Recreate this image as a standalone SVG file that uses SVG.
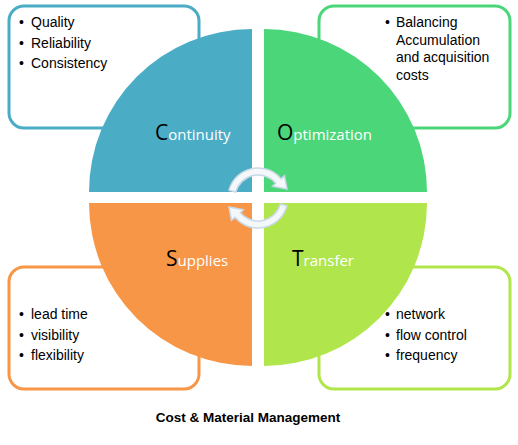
<svg xmlns="http://www.w3.org/2000/svg" width="518" height="445" viewBox="0 0 518 445">
<style>
.box{fill:#ffffff;stroke-width:3}
.bt{font-family:"Liberation Sans",Arial,sans-serif;font-size:14px;fill:#000}
.lab{font-family:"Open Sans","Liberation Sans",sans-serif;font-size:15px;fill:#ffffff}
.cap{font-size:21px;fill:#000}
.arr{fill:#f4f8fb;stroke:#c9d9e6;stroke-width:1.5}
.title{font-family:"Liberation Sans",Arial,sans-serif;font-size:13.5px;font-weight:bold;fill:#000}
</style>
<rect width="518" height="445" fill="#ffffff"/>
<g id="box-continuity">
<rect class="box" x="9" y="6" width="190" height="122" rx="15" stroke="#4bacc6"/>
<text class="bt" x="19" y="27">•</text><text class="bt" x="31" y="27">Quality</text>
<text class="bt" x="19" y="48">•</text><text class="bt" x="31" y="48">Reliability</text>
<text class="bt" x="19" y="68">•</text><text class="bt" x="31" y="68">Consistency</text>
</g>
<g id="box-optimization">
<rect class="box" x="319" y="6" width="191" height="122" rx="15" stroke="#4bd679"/>
<text class="bt" x="385" y="27">•</text><text class="bt" x="396" y="27">Balancing</text>
<text class="bt" x="396" y="45">Accumulation</text>
<text class="bt" x="396" y="62">and acquisition</text>
<text class="bt" x="396" y="80">costs</text>
</g>
<g id="box-supplies">
<rect class="box" x="9" y="267" width="190" height="122" rx="15" stroke="#f79646"/>
<text class="bt" x="19" y="319">•</text><text class="bt" x="31" y="319">lead time</text>
<text class="bt" x="19" y="340">•</text><text class="bt" x="31" y="340">visibility</text>
<text class="bt" x="19" y="360">•</text><text class="bt" x="31" y="360">flexibility</text>
</g>
<g id="box-transfer">
<rect class="box" x="319" y="267" width="191" height="122" rx="15" stroke="#b0e64c"/>
<text class="bt" x="385" y="319">•</text><text class="bt" x="396" y="319">network</text>
<text class="bt" x="385" y="340">•</text><text class="bt" x="396" y="340">flow control</text>
<text class="bt" x="385" y="360">•</text><text class="bt" x="396" y="360">frequency</text>
</g>
<g id="continuity">
<path d="M252,192 L89,192 A163,163 0 0 1 252,29 Z" fill="#4bacc6"/>
<text class="lab" x="155" y="140"><tspan class="cap">C</tspan>ontinuity</text>
</g>
<g id="optimization">
<path d="M264,192 L264,29 A163,163 0 0 1 427,192 Z" fill="#4bd679"/>
<text class="lab" x="277" y="140"><tspan class="cap">O</tspan>ptimization</text>
</g>
<g id="supplies">
<path d="M252,203 L252,366 A163,163 0 0 1 89,203 Z" fill="#f79646"/>
<text class="lab" x="166" y="266"><tspan class="cap">S</tspan>upplies</text>
</g>
<g id="transfer">
<path d="M264,203 L427,203 A163,163 0 0 1 264,366 Z" fill="#b0e64c"/>
<text class="lab" x="292" y="266"><tspan class="cap">T</tspan>ransfer</text>
</g>
<g id="connectors">
<path id="arrow-top" class="arr" d="M229,190.2 A30,30 0 0 1 281,178.7 L284.5,175.6 L287,189 L272.6,186.2 L275.6,183.2 A23,23 0 0 0 235.8,192 Z"/>
<path id="arrow-bottom" class="arr" transform="rotate(180 258 198)" d="M229,190.2 A30,30 0 0 1 281,178.7 L284.5,175.6 L287,189 L272.6,186.2 L275.6,183.2 A23,23 0 0 0 235.8,192 Z"/>
</g>
<text class="title" x="248" y="422" text-anchor="middle">Cost &amp; Material Management</text>
</svg>
